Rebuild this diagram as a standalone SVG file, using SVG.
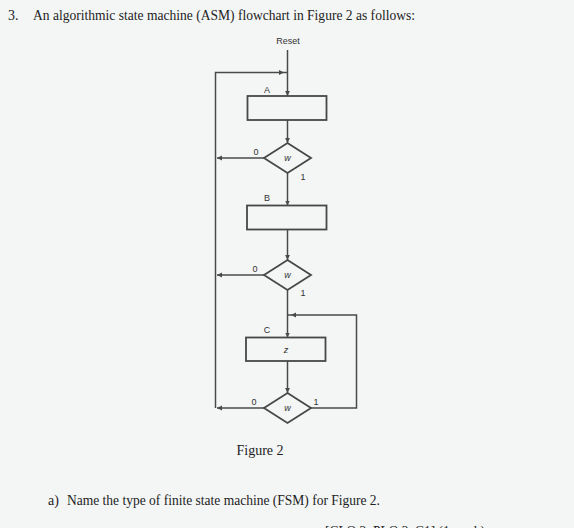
<svg xmlns="http://www.w3.org/2000/svg" width="574" height="528" viewBox="0 0 574 528">
<style>
.bg{fill:#f4f6f6}
.box{fill:none;stroke:#474747;stroke-width:1.8}
.ln{fill:none;stroke:#4a4a4a;stroke-width:1.5}
.lbl{font-family:"Liberation Sans",Arial,sans-serif;font-size:9px;fill:#333}
.var{font-family:"Liberation Sans",Arial,sans-serif;font-size:9px;font-style:italic;fill:#333}
.doc{font-family:"Liberation Serif","Times New Roman",serif;font-size:14px;fill:#222}
</style>
<defs>
<marker id="ah" markerWidth="6" markerHeight="6" refX="5" refY="3" orient="auto" markerUnits="userSpaceOnUse">
<path d="M0,0.6 L5,3 L0,5.4 Z" fill="#4a4a4a"/>
</marker>
</defs>
<rect class="bg" x="0" y="0" width="574" height="528"/>
<text class="doc" x="8" y="20">3.</text>
<text class="doc" x="33" y="20" textLength="382" lengthAdjust="spacingAndGlyphs">An algorithmic state machine (ASM) flowchart in Figure 2 as follows:</text>

<g id="connectors">
<path class="ln" d="M287.5,50 V96" marker-end="url(#ah)"/>
<path class="ln" d="M215.5,408 V72.5 H284" marker-end="url(#ah)"/>
<path class="ln" d="M284,72.5 H287.5"/>
<path class="ln" d="M287.5,120 V143" marker-end="url(#ah)"/>
<path class="ln" d="M264,158 H217" marker-end="url(#ah)"/>
<path class="ln" d="M287.5,173 V205.5" marker-end="url(#ah)"/>
<path class="ln" d="M287.5,229.5 V260" marker-end="url(#ah)"/>
<path class="ln" d="M264,275 H217" marker-end="url(#ah)"/>
<path class="ln" d="M287.5,290 V337.5" marker-end="url(#ah)"/>
<path class="ln" d="M287.5,361 V393" marker-end="url(#ah)"/>
<path class="ln" d="M264,408 H217" marker-end="url(#ah)"/>
<path class="ln" d="M311,408 H356.5 V315 H291" marker-end="url(#ah)"/>
<path class="ln" d="M291,315 H287.5"/>
</g>

<g id="reset"><text class="lbl" x="288" y="44" text-anchor="middle" font-size="9.5">Reset</text></g>

<g id="stateA">
<rect class="box" x="247.5" y="96" width="79" height="24"/>
<text class="lbl" x="267" y="93" text-anchor="middle">A</text>
</g>
<g id="decision1">
<polygon class="box" points="287.5,143 311,158 287.5,173 264,158"/>
<text class="var" x="287.5" y="161" text-anchor="middle">w</text>
<text class="lbl" x="256" y="155" text-anchor="middle">0</text>
<text class="lbl" x="303" y="180" text-anchor="middle">1</text>
</g>
<g id="stateB">
<rect class="box" x="247" y="205.5" width="79.5" height="24"/>
<text class="lbl" x="267" y="201" text-anchor="middle">B</text>
</g>
<g id="decision2">
<polygon class="box" points="287.5,260 311,275 287.5,290 264,275"/>
<text class="var" x="287.5" y="278" text-anchor="middle">w</text>
<text class="lbl" x="255" y="272" text-anchor="middle">0</text>
<text class="lbl" x="303" y="296" text-anchor="middle">1</text>
</g>
<g id="stateC">
<rect class="box" x="246" y="337.5" width="79.5" height="23.5"/>
<text class="lbl" x="267" y="333" text-anchor="middle">C</text>
<text class="var" x="286" y="352.5" text-anchor="middle">z</text>
</g>
<g id="decision3">
<polygon class="box" points="287.5,393 311,408 287.5,423 264,408"/>
<text class="var" x="287.5" y="411" text-anchor="middle">w</text>
<text class="lbl" x="254" y="405" text-anchor="middle">0</text>
<text class="lbl" x="316" y="405" text-anchor="middle">1</text>
</g>

<text class="doc" x="260" y="455" text-anchor="middle">Figure 2</text>
<text class="doc" x="48" y="505">a)</text>
<text class="doc" x="67" y="505" textLength="313" lengthAdjust="spacingAndGlyphs">Name the type of finite state machine (FSM) for Figure 2.</text>
<text class="doc" x="325" y="536" textLength="160" lengthAdjust="spacingAndGlyphs">[CLO 2, PLO 2, C1] (1 mark)</text>
</svg>
